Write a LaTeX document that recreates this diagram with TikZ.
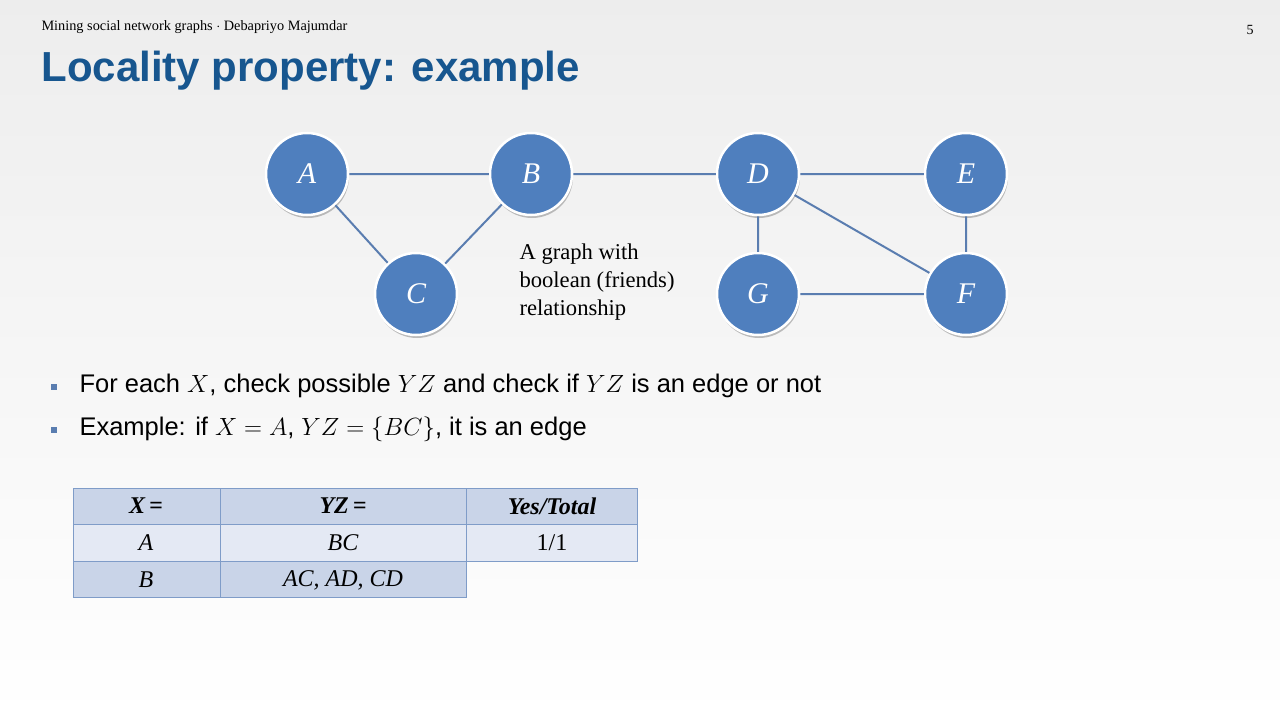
\documentclass[tikz,border=0pt]{standalone}
\usepackage{fontspec}
\setmainfont{Liberation Serif}
\newfontfamily\arial{Liberation Sans}
\usetikzlibrary{shadows}
\definecolor{nodeblue}{HTML}{4F7FBE}
\definecolor{edgeblue}{HTML}{5A7DB0}
\definecolor{titleblue}{HTML}{17568F}
\definecolor{hdr}{HTML}{C9D4E8}
\definecolor{rowa}{HTML}{E4E9F4}
\definecolor{tline}{HTML}{7F9CC8}
\begin{document}
\begin{tikzpicture}[x=1pt,y=-1pt,
  vtx/.style={circle,fill=nodeblue,draw=white,line width=2.5pt,minimum size=82pt,inner sep=0pt,text=white,font=\fontsize{30}{30}\selectfont\itshape,drop shadow={opacity=0.5,shadow xshift=1pt,shadow yshift=-3pt}},
  edge/.style={draw=edgeblue,line width=2pt},
  cell/.style={draw=tline,line width=0.8pt,font=\fontsize{24}{24}\selectfont\itshape},
  bul/.style={font=\arial\fontsize{25.5}{25.5}\selectfont,anchor=west}]
\shade[top color=gray!14,bottom color=white] (0,0) rectangle (1280,720);
\node[anchor=west,font=\fontsize{14.3}{14.3}\selectfont] (hd) at (38,27) {Mining social network graphs $\cdot$ Debapriyo Majumdar};
\node[font=\fontsize{14}{14}\selectfont] (pg) at (1250,30) {5};
\node[anchor=west,text=titleblue,font=\arial\bfseries\fontsize{42}{42}\selectfont] (tt) at (38,71) {Locality property: example};
\node[vtx] (A) at (307,174) {A};
\node[vtx] (B) at (531,174) {B};
\node[vtx] (C) at (416,294) {C};
\node[vtx] (D) at (758,174) {D};
\node[vtx] (E) at (966,174) {E};
\node[vtx] (G) at (758,294) {G};
\node[vtx] (F) at (966,294) {F};
\path[edge] (A)--(B) (A)--(C) (B)--(C) (B)--(D) (D)--(E) (D)--(G) (D)--(F) (E)--(F) (G)--(F);
\node[anchor=north west,align=left,font=\fontsize{22.6}{28}\selectfont] (cap) at (516,240) {A graph with\\boolean (friends)\\relationship};
\node[fill=edgeblue,minimum size=6pt,inner sep=0pt] (b1) at (54,387) {};
\node[fill=edgeblue,minimum size=6pt,inner sep=0pt] (b2) at (54,430) {};
\node[bul] (t1) at (76,386) {For each $X$, check possible $YZ$ and check if $YZ$ is an edge or not};
\node[bul] (t2) at (76,429) {Example: if $X=A$, $YZ=\{BC\}$, it is an edge};
\filldraw[cell,fill=hdr] (73,488) rectangle (637,524);
\filldraw[cell,fill=rowa] (73,524) rectangle (637,561);
\filldraw[cell,fill=hdr] (73,561) rectangle (466,597);
\draw[tline,line width=0.8pt] (220,488)--(220,597) (466,488)--(466,597);
\node[font=\fontsize{24}{24}\selectfont\bfseries\itshape] (h1) at (146,506) {X\,=};
\node[font=\fontsize{24}{24}\selectfont\bfseries\itshape] (h2) at (343,506) {YZ\,=};
\node[font=\fontsize{24}{24}\selectfont\bfseries\itshape] (h3) at (552,506) {Yes/Total};
\node[font=\fontsize{24}{24}\selectfont\itshape] (a1) at (146,543) {A};
\node[font=\fontsize{24}{24}\selectfont\itshape] (a2) at (343,543) {BC};
\node[font=\fontsize{24}{24}\selectfont] (a3) at (552,543) {1/1};
\node[font=\fontsize{24}{24}\selectfont\itshape] (c1) at (146,580) {B};
\node[font=\fontsize{24}{24}\selectfont\itshape] (c2) at (343,580) {AC, AD, CD};
\end{tikzpicture}
\end{document}
